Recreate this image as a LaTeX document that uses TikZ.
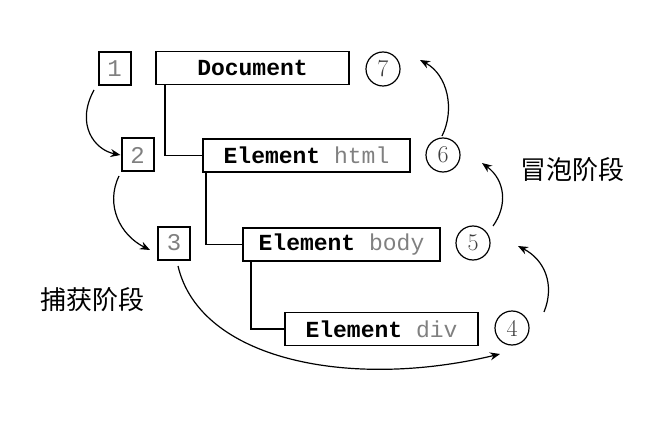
\documentclass[tikz,border=0pt]{standalone}
\usepackage{fontspec}
\setmonofont{Liberation Mono}
\newfontfamily\cjk{Noto Sans CJK SC}
\usetikzlibrary{arrows.meta}
\begin{document}
\begin{tikzpicture}[x=1pt,y=-1pt,
  box/.style={draw,line width=1.8pt,minimum height=33pt,inner sep=0pt,font=\ttfamily\fontsize{23}{23}\selectfont},
  num/.style={box,line width=2pt,minimum width=32pt,text=gray,font=\ttfamily\fontsize{24}{24}\selectfont},
  circ/.style={draw,circle,line width=1.2pt,minimum size=34pt,inner sep=0pt,font=\fontsize{24}{24}\selectfont,text=darkgray},
  tree/.style={line width=1.8pt},
  arr/.style={line width=1.2pt,-{Stealth[length=10pt,width=8pt]}},
  lab/.style={font=\cjk\fontsize{26}{26}\selectfont}]
\useasboundingbox (0,0) rectangle (660,430);
\node[num] (n1) at (114.5,69) {1};
\node[box,minimum width=193pt] (d) at (252.5,68) {\textbf{Document}};
\node[circ] (c7) at (383,69) {7};
\node[num] (n2) at (137.5,155) {2};
\node[box,minimum width=207pt] (h) at (306.5,155.5) {\textbf{Element} \textcolor{gray}{html}};
\node[circ] (c6) at (443,155) {6};
\node[num] (n3) at (174,243) {3};
\node[box,minimum width=197pt] (b) at (341.5,244.5) {\textbf{Element} \textcolor{gray}{body}};
\node[circ] (c5) at (473,243) {5};
\node[box,minimum width=193pt] (v) at (381.5,329) {\textbf{Element} \textcolor{gray}{div}};
\node[circ] (c4) at (512,328) {4};
\node[lab] (cap) at (92,300) {捕获阶段};
\node[lab] (bub) at (572,170) {冒泡阶段};
\draw[tree] (d.south west) ++(10,0) |- (h.west);
\draw[tree] (h.south west) ++(4,0) |- (b.west);
\draw[tree] (b.south west) ++(9,0) |- (v.west);
\draw[arr] (94,90) .. controls (75,125) and (95,150) .. (n2.west);
\draw[arr] (119,176) .. controls (105,205) and (120,235) .. (150,250);
\draw[arr] (178,266) .. controls (200,360) and (350,390) .. (500,354);
\draw[arr] (544,312) .. controls (555,285) and (545,260) .. (518,246);
\draw[arr] (493,226) .. controls (508,205) and (505,180) .. (482,163);
\draw[arr] (442,136) .. controls (455,110) and (448,75) .. (420,60);
\end{tikzpicture}
\end{document}
